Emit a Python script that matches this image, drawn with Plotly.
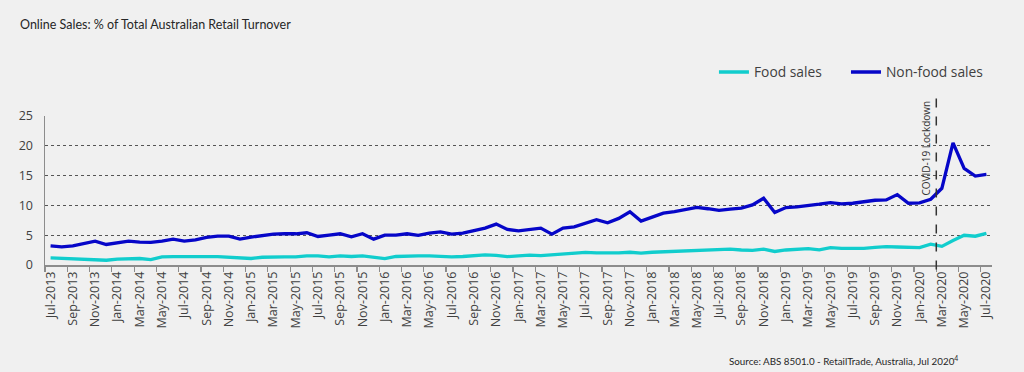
import pandas as pd
import plotly.graph_objects as go

# Monthly categories Jul-2013 .. Jul-2020
months = pd.date_range("2013-07-01", periods=85, freq="MS").strftime("%b-%Y").tolist()

food_sales = [
    1.20, 1.14, 1.09, 0.98, 0.98, 0.80, 0.98, 1.09, 1.09, 0.92,
    1.35, 1.40, 1.36, 1.30, 1.40, 1.40, 1.30, 1.14, 1.09, 1.30,
    1.38, 1.35, 1.35, 1.54, 1.54, 1.37, 1.54, 1.43, 1.54, 1.32,
    1.06, 1.43, 1.54, 1.54, 1.54, 1.43, 1.36, 1.43, 1.54, 1.71,
    1.60, 1.40, 1.54, 1.65, 1.56, 1.71, 1.88, 1.99, 2.12, 2.04,
    1.99, 2.04, 2.14, 1.99, 2.14, 2.21, 2.27, 2.33, 2.41, 2.46,
    2.52, 2.66, 2.52, 2.47, 2.66, 2.27, 2.52, 2.64, 2.75, 2.53,
    2.91, 2.80, 2.80, 2.80, 2.97, 3.08, 3.02, 2.91, 2.91, 3.51,
    3.13, 4.12, 4.99, 4.83, 5.32,
]

nonfood_sales = [
    3.20, 3.05, 3.22, 3.56, 4.00, 3.44, 3.72, 4.00, 3.84, 3.78,
    4.00, 4.34, 4.00, 4.23, 4.62, 4.85, 4.85, 4.34, 4.68, 4.96,
    5.18, 5.24, 5.24, 5.41, 4.79, 5.01, 5.24, 4.73, 5.24, 4.34,
    5.01, 5.01, 5.24, 4.96, 5.35, 5.57, 5.18, 5.35, 5.80, 6.19,
    6.86, 5.97, 5.74, 5.91, 6.19, 5.18, 6.19, 6.41, 7.03, 7.59,
    7.09, 7.82, 8.94, 7.37, 8.04, 8.71, 8.94, 9.27, 9.66, 9.44,
    9.16, 9.36, 9.53, 10.08, 11.20, 8.80, 9.64, 9.75, 9.92, 10.20,
    10.47, 10.25, 10.36, 10.64, 10.86, 10.92, 11.81, 10.36, 10.42, 11.03,
    12.87, 20.50, 16.20, 14.93, 15.21,
]

series_names = ["Food sales", "Non-food sales"]
series_colors = ["#11CDCD", "#0606C8"]
series_legends = ["legend", "legend2"]
y_ticks = [0, 5, 10, 15, 20, 25]
lockdown_position = 79.5  # boundary between Feb-2020 and Mar-2020
lockdown_label = "COVID-19 Lockdown"

x_idx = list(range(len(months)))
label_idx = x_idx[::2]
label_text = months[::2]

BG = "#F0F0F0"
FONT = "Open Sans, Arial, sans-serif"
NARROW = "Lato, Open Sans, sans-serif"

fig = go.Figure()
for name, vals, col, lg in zip(series_names, [food_sales, nonfood_sales],
                               series_colors, series_legends):
    fig.add_trace(go.Scatter(
        x=x_idx, y=vals, mode="lines", name=name,
        line=dict(color=col, width=3.3),
        hoverinfo="skip", legend=lg,
    ))

legend_style = dict(
    orientation="h", xanchor="left", y=1.295, yanchor="middle",
    font=dict(family=FONT, size=13.8, color="#404040"),
    bgcolor="rgba(0,0,0,0)",
)

fig.update_layout(
    width=1024, height=372,
    margin=dict(l=45, r=32, t=116, b=107),
    paper_bgcolor=BG, plot_bgcolor=BG,
    font=dict(family=FONT, color="#404040"),
    title=dict(
        text="Online Sales: % of Total Australian Retail Turnover",
        x=20 / 1024, xanchor="left", xref="container",
        y=1 - 25 / 372, yanchor="middle", yref="container",
        font=dict(family=NARROW, size=12.5, color="#262626"),
    ),
    showlegend=True,
    legend=dict(x=0.7064, **legend_style),
    legend2=dict(x=0.8458, **legend_style),
    xaxis=dict(
        range=[-0.5, 84.5], tickmode="array", tickvals=label_idx, ticktext=label_text,
        tickangle=-90, ticks="", showgrid=False, zeroline=False,
        showline=True, linecolor="#8C8C8C", linewidth=1.5,
        tickfont=dict(family=FONT, size=12.5, color="#404040"),
        minor=dict(tickmode="linear", tick0=-0.5, dtick=2, ticks="outside",
                   ticklen=5, tickcolor="#8C8C8C", tickwidth=1.2, showgrid=False),
        fixedrange=True,
    ),
    yaxis=dict(
        range=[0, 25], tickmode="array", tickvals=y_ticks,
        showgrid=True, gridcolor="#555555", griddash="dot", gridwidth=1,
        zeroline=False, showline=True, linecolor="#8C8C8C", linewidth=1.5,
        ticks="", ticklabelstandoff=8,
        tickfont=dict(family=FONT, size=12.5, color="#404040"),
        fixedrange=True,
    ),
)

fig.add_shape(
    type="line", xref="x", yref="paper",
    x0=lockdown_position, x1=lockdown_position, y0=-0.03, y1=1.136,
    line=dict(color="#333333", width=1.5, dash="dash"),
)
fig.add_annotation(
    x=lockdown_position, xref="x", y=19.6, yref="y",
    text=lockdown_label, textangle=-90, showarrow=False,
    xanchor="center", yanchor="middle", xshift=-10,
    font=dict(family=FONT, size=10, color="#333333"),
)
fig.add_annotation(
    x=(960 - 45) / 947, xref="paper", xanchor="right",
    y=-(360 - 265) / 149, yref="paper", yanchor="middle",
    text="Source: ABS 8501.0 - RetailTrade, Australia, Jul 2020<sup>4</sup>",
    showarrow=False,
    font=dict(family=NARROW, size=9.8, color="#262626"),
)

fig.write_html(
    "out.html",
    config={"displayModeBar": False, "staticPlot": True},
    post_script="document.body.style.margin='0';document.body.style.padding='0';"
                "document.body.style.background='" + BG + "';"
                "document.documentElement.style.background='" + BG + "';",
)
